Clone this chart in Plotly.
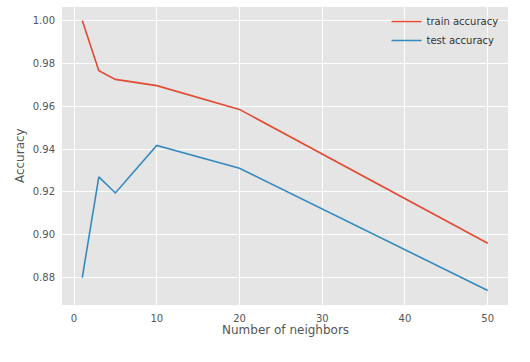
import plotly.graph_objects as go

neighbors = [1, 3, 5, 10, 20, 50]
train_accuracy = [1.000, 0.9766, 0.9725, 0.9696, 0.9585, 0.8960]
test_accuracy = [0.880, 0.927, 0.9195, 0.9417, 0.931, 0.8740]

fig = go.Figure()
fig.add_trace(go.Scatter(x=neighbors, y=train_accuracy, mode="lines", name="train accuracy",
                         line=dict(color="#E24A33", width=1.6)))
fig.add_trace(go.Scatter(x=neighbors, y=test_accuracy, mode="lines", name="test accuracy",
                         line=dict(color="#348ABD", width=1.6)))

fig.update_layout(
    width=530, height=362,
    margin=dict(l=62, r=22, t=7, b=57, autoexpand=False),
    paper_bgcolor="white", plot_bgcolor="#E5E5E5",
    font=dict(family="DejaVu Sans", color="#555555", size=10),
    showlegend=True,
    legend=dict(x=0.99, y=1.0, xanchor="right", yanchor="top", bgcolor="rgba(0,0,0,0)",
                font=dict(size=10, color="#333333"), tracegroupgap=0, itemwidth=30),
    xaxis=dict(range=[-1.45, 52.45], tickvals=[0, 10, 20, 30, 40, 50],
               showgrid=True, gridcolor="white", gridwidth=1, zeroline=False,
               ticks="outside", ticklen=4, tickcolor="rgba(0,0,0,0)",
               tickfont=dict(size=10, color="#555555"), automargin=False),
    yaxis=dict(range=[0.8672, 1.0063], tickvals=[0.88, 0.90, 0.92, 0.94, 0.96, 0.98, 1.00],
               tickformat=".2f",
               showgrid=True, gridcolor="white", gridwidth=1, zeroline=False,
               ticks="outside", ticklen=4, tickcolor="rgba(0,0,0,0)",
               tickfont=dict(size=10, color="#555555"), automargin=False),
    annotations=[
        dict(text="Number of neighbors", xref="paper", yref="paper", x=0.5, y=-0.083,
             xanchor="center", yanchor="middle", showarrow=False,
             font=dict(size=12, color="#555555")),
        dict(text="Accuracy", xref="paper", yref="paper", x=-0.094, y=0.5, textangle=-90,
             xanchor="center", yanchor="middle", showarrow=False,
             font=dict(size=12, color="#555555")),
    ],
)

fig.write_html("out.html", config={"displayModeBar": False},
               post_script="document.body.style.margin='0';")
